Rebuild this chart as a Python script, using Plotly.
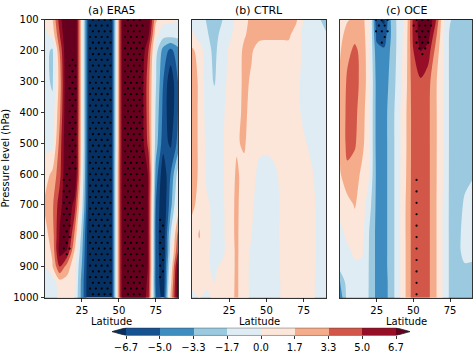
import plotly.graph_objects as go

# ---------------- data ----------------
LAT = [0, 5, 10, 15, 20, 25, 30, 35, 40, 45, 50, 55, 60, 65, 70, 75, 80, 85, 90]
PLEV = [100, 150, 200, 300, 400, 500, 600, 700, 800, 850, 900, 950, 1000]

ERA5 = [
    [0.3, 1.5, 6.0, 9.0, 9.5, 0.5, -8.0, -9.0, -9.0, -7.5, 3.2, 12.0, 10.0, 9.0, 8.0, 2.0, 0.5, 0.3, 0.2],
    [-0.5, 0.5, 5.0, 9.0, 9.5, 0.5, -8.0, -9.0, -9.0, -7.5, 3.2, 12.0, 10.0, 9.0, 7.0, 0.5, -1.0, -1.0, -1.0],
    [-1.0, -2.0, 3.5, 9.0, 9.5, 0.5, -8.0, -9.0, -9.0, -7.5, 3.2, 12.0, 10.0, 8.5, 5.0, -1.0, -4.0, -5.5, -4.0],
    [-1.0, -2.0, 2.5, 9.0, 9.5, 0.5, -8.0, -9.0, -9.0, -7.5, 3.2, 12.0, 10.0, 8.0, 4.0, -1.5, -5.0, -8.0, -5.0],
    [-0.5, -1.0, 3.0, 9.0, 9.5, 0.5, -8.0, -9.0, -9.0, -7.5, 3.2, 12.0, 10.0, 8.0, 4.0, -2.0, -5.5, -8.0, -5.0],
    [-0.5, -0.5, 4.0, 9.0, 9.0, 0.5, -8.0, -9.0, -9.0, -7.5, 3.2, 12.0, 10.0, 8.0, 4.5, -2.5, -6.0, -7.0, -4.5],
    [1.0, 2.0, 4.5, 9.0, 9.0, 0.0, -8.0, -9.0, -9.0, -7.5, 3.5, 12.0, 10.0, 9.0, 6.5, -4.0, -8.0, -5.0, -1.0],
    [2.0, 3.0, 6.0, 8.5, 6.0, -1.0, -8.0, -9.0, -9.0, -7.5, 3.5, 12.0, 10.0, 9.0, 6.5, -5.0, -8.5, -4.0, 0.5],
    [1.0, 2.5, 7.0, 8.0, 3.0, -2.5, -8.5, -9.0, -9.0, -7.5, 3.5, 12.0, 10.0, 9.0, 6.5, -5.5, -8.5, -1.5, 4.0],
    [0.5, 2.0, 7.5, 6.5, 1.5, -3.0, -8.5, -9.0, -9.0, -7.5, 3.5, 12.0, 10.0, 9.0, 6.5, -5.5, -8.5, -1.0, 5.0],
    [0.0, 1.5, 5.0, 2.5, 0.5, -3.5, -8.5, -9.0, -9.0, -7.5, 3.5, 12.0, 10.0, 9.0, 6.5, -5.5, -8.0, 0.0, 7.5],
    [-0.5, -1.0, 1.0, 1.0, 0.3, -4.0, -8.5, -9.0, -9.0, -7.5, 3.5, 12.0, 10.0, 9.0, 6.0, -5.5, -8.0, 1.0, 8.0],
    [-1.0, -1.5, 0.8, 0.8, 0.0, -4.0, -8.5, -9.0, -9.0, -7.5, 3.5, 12.0, 10.0, 9.0, 5.5, -5.0, -7.5, 2.0, 8.0],
]

CTRL = [
    [-0.5, -1.0, -1.8, -2.5, -1.8, -0.5, 0.3, 1.0, 2.2, 2.2, 2.2, 2.2, 2.2, 2.2, 1.9, 0.0, -1.0, -1.5, -2.2],
    [0.3, -0.8, -1.5, -2.3, -1.2, -0.3, 0.5, 1.5, 2.2, 2.0, 2.0, 2.0, 2.0, 1.9, 1.0, -0.5, -1.0, -1.2, -1.5],
    [2.0, 1.0, -1.2, -2.0, -1.0, 0.2, 0.8, 2.0, 1.8, 1.2, 1.0, 1.0, 1.0, 1.2, 1.5, -0.5, -1.0, -1.0, -1.2],
    [2.2, 1.5, -1.0, -1.8, -0.8, 0.5, 1.0, 2.0, 1.5, 0.8, 0.5, 0.8, 0.8, 0.6, 0.3, -0.3, -0.8, -0.8, -1.0],
    [2.2, 1.5, -0.8, -1.0, -0.3, 0.5, 1.2, 2.0, 1.2, 0.5, 0.5, 0.8, 0.8, 0.6, 0.4, -0.3, -0.6, -0.8, -0.8],
    [2.2, 1.5, -0.5, -0.8, -0.2, 0.5, 1.5, 1.9, 0.8, 0.3, 0.3, 0.5, 0.6, 0.5, 0.4, 0.2, -0.3, -0.8, -0.8],
    [2.2, 1.5, -0.3, -0.5, -0.3, 0.8, 1.9, 1.2, 0.5, -0.3, -0.5, -0.3, 0.3, 0.6, 0.6, 0.5, 0.2, -0.5, -0.8],
    [2.0, 1.2, 0.2, -0.3, -0.5, 1.0, 2.0, 0.8, 0.2, -0.5, -0.6, -0.5, 0.2, 0.6, 0.7, 0.6, 0.4, -0.3, -0.8],
    [1.0, 1.8, 0.3, -0.3, -0.6, 1.0, 2.0, 0.6, 0.0, -0.6, -0.7, -0.6, 0.3, 0.6, 0.7, 0.3, 0.5, -0.3, -0.8],
    [0.6, 1.0, 0.3, -0.4, -0.5, 0.8, 2.0, 0.6, -0.2, -0.6, -0.7, -0.6, 0.2, 0.6, 0.6, 0.2, 0.5, -0.3, -0.8],
    [0.4, 0.6, 0.2, -0.3, 0.3, 0.8, 2.0, 0.5, -0.3, -0.6, -0.7, -0.6, 0.2, 0.5, 0.6, 0.3, 0.4, -0.3, -0.8],
    [0.2, 0.3, 0.2, 0.0, 0.5, 0.9, 2.0, 0.5, -0.3, -0.6, -0.7, -0.6, 0.1, 0.4, 0.6, 0.3, 0.3, -0.3, -0.8],
    [-0.2, 0.0, -0.2, 0.2, 0.6, 1.0, 2.0, 0.5, -0.3, -0.6, -0.7, -0.6, 0.1, 0.4, 0.6, 0.3, 0.3, -0.3, -0.8],
]

OCE = [
    [0.5, 1.5, 2.0, 2.0, 1.0, -6.5, -7.0, -3.0, -1.0, 0.5, 5.5, 7.5, 8.5, 5.5, 0.5, -1.5, -2.5, -2.5, -2.5],
    [1.0, 2.5, 3.0, 2.5, 0.5, -5.5, -6.0, -3.2, -1.0, 0.8, 5.5, 7.5, 7.5, 4.0, 0.5, -2.0, -2.5, -2.5, -2.5],
    [1.5, 3.0, 3.6, 3.0, 0.3, -4.5, -4.8, -3.0, -1.0, 1.0, 5.0, 6.8, 6.0, 3.0, 0.3, -2.0, -2.5, -2.5, -2.5],
    [2.0, 3.6, 3.8, 3.0, 0.5, -4.0, -4.2, -2.8, -0.8, 1.2, 4.5, 4.8, 4.0, 2.0, 0.3, -2.0, -2.5, -2.5, -2.5],
    [2.0, 3.8, 3.8, 2.5, 0.3, -4.0, -4.0, -2.5, -0.5, 1.5, 4.2, 4.5, 3.8, 2.0, 0.3, -2.0, -2.5, -2.5, -2.5],
    [2.0, 3.8, 3.6, 2.2, 0.3, -4.0, -4.0, -2.5, -0.5, 1.5, 4.2, 4.5, 3.8, 2.0, 0.3, -2.0, -2.5, -2.5, -2.5],
    [1.5, 3.0, 2.5, 1.3, 0.0, -3.8, -4.0, -2.5, -0.5, 1.6, 4.2, 4.5, 3.8, 2.0, 0.2, -2.0, -2.3, -2.0, -1.8],
    [0.5, 1.0, 1.8, 1.0, -1.0, -3.8, -4.0, -2.5, -0.5, 1.8, 4.2, 4.5, 3.8, 2.0, 0.0, -2.0, -2.2, -1.5, -1.2],
    [-0.5, 0.3, 0.8, 0.5, -1.8, -3.8, -4.0, -2.5, -0.5, 1.8, 4.2, 4.5, 3.8, 2.0, 0.0, -2.0, -2.0, -1.3, -1.0],
    [-0.8, -0.3, 0.3, 0.2, -1.8, -3.8, -4.0, -2.5, -0.5, 1.8, 4.2, 4.5, 3.8, 2.0, 0.0, -2.0, -2.0, -1.3, -1.0],
    [-1.0, -0.5, -0.3, -0.3, -1.8, -3.8, -4.0, -2.5, -0.5, 1.8, 4.2, 4.5, 3.8, 2.0, 0.0, -2.0, -2.2, -1.8, -2.0],
    [-3.5, -0.8, -0.5, -0.5, -1.8, -3.8, -4.2, -2.5, -0.5, 1.8, 4.2, 4.5, 3.8, 2.0, 0.0, -2.0, -2.2, -2.2, -2.2],
    [-4.5, -1.0, -0.6, -0.6, -1.8, -3.8, -4.2, -2.5, -0.5, 1.8, 4.2, 4.5, 3.8, 2.0, 0.0, -2.0, -2.2, -2.2, -2.2],
]

# significance regions (lat_min, lat_max, p_min, p_max), drawn as stippling
SIG_ERA5 = [(30, 45.5, 100, 1000), (52.5, 68, 100, 1000), (16, 21.5, 230, 600),
            (11.5, 18, 600, 870), (76.5, 80, 740, 950)]
SIG_CTRL = []
SIG_OCE = [(24, 33, 100, 150), (27, 31, 150, 175), (50, 64, 100, 135),
           (51, 62, 135, 180), (53, 59, 180, 215), (51.5, 53, 610, 1000)]

LEVELS = [-6.7, -5.025, -3.35, -1.675, 0.0, 1.675, 3.35, 5.025, 6.7]
LEVEL_LABELS = ["\u22126.7", "\u22125.0", "\u22123.3", "\u22121.7", "0.0", "1.7", "3.3", "5.0", "6.7"]
COLORS = ["#053061", "#175290", "#3f8dc0", "#9ac9e0", "#dfecf3",
          "#fbe6d9", "#f5ac8b", "#d25749", "#960f27", "#67001f"]
TITLES = ["(a) ERA5", "(b) CTRL", "(c) OCE"]
XTICKS = [25, 50, 75]
YTICKS = [100, 200, 300, 400, 500, 600, 700, 800, 900, 1000]

# ---------------- styling / layout constants ----------------
W, H = 474, 357
FONT = "DejaVu Sans"
PANEL_PX = [(45, 178), (192, 326), (340, 472)]
TOP_PX, BOT_PX = 15, 302
CB_X0, CB_X1, CB_Y0, CB_Y1 = 112, 410, 333, 341

def fx(px):
    return px / W

def fy(px):
    return 1 - px / H

CS = LEVELS[1] - LEVELS[0]
ZMIN = LEVELS[0] - CS / 2
ZMAX = LEVELS[-1] + CS / 2
n = len(COLORS)
colorscale = []
for i, c in enumerate(COLORS):
    lo = 0.0 if i == 0 else (i - 0.5) / (n - 1)
    hi = 1.0 if i == n - 1 else (i + 0.5) / (n - 1)
    colorscale.append([lo, c])
    colorscale.append([hi, c])

# hatch grid (visual spacing of the stipple pattern)
DX, DY, LAT0, P0 = 3.95, 18.5, 0.85, 101.0


def stipple(boxes):
    xs, ys = [], []
    j = 0
    while P0 + j * DY <= 1000:
        p = P0 + j * DY
        lat = LAT0 + (DX / 2 if j % 2 else 0.0)
        while lat <= 90:
            for (a, b, c, d) in boxes:
                if a <= lat <= b and c <= p <= d:
                    xs.append(lat)
                    ys.append(p)
                    break
            lat += DX
        j += 1
    return xs, ys


fig = go.Figure()

for i, (z, sig) in enumerate(zip([ERA5, CTRL, OCE], [SIG_ERA5, SIG_CTRL, SIG_OCE])):
    xa = "x" if i == 0 else f"x{i+1}"
    ya = "y" if i == 0 else f"y{i+1}"
    fig.add_trace(go.Contour(
        x=LAT, y=PLEV, z=z, xaxis=xa, yaxis=ya,
        colorscale=colorscale, zmin=ZMIN, zmax=ZMAX, autocontour=False,
        contours=dict(start=LEVELS[0], end=LEVELS[-1], size=CS,
                      coloring="fill", showlines=False),
        line=dict(width=0, smoothing=0.9), showscale=False, hoverinfo="skip",
    ))
    if sig:
        sx, sy = stipple(sig)
        fig.add_trace(go.Scatter(
            x=sx, y=sy, xaxis=xa, yaxis=ya, mode="markers",
            marker=dict(size=2.2, color="black", line=dict(width=0)),
            hoverinfo="skip", showlegend=False,
        ))

# colorbar (drawn on its own axis)
mids = [(LEVELS[k] + LEVELS[k + 1]) / 2 for k in range(len(LEVELS) - 1)]
EXT = (LEVELS[-1] - LEVELS[0]) * 14 / 270
fig.add_trace(go.Heatmap(
    x=LEVELS, y=[0, 1], z=[mids], xaxis="x4", yaxis="y4",
    colorscale=colorscale, zmin=ZMIN, zmax=ZMAX, showscale=False, hoverinfo="skip",
))
fig.add_trace(go.Scatter(
    x=[LEVELS[0], LEVELS[0] - EXT, LEVELS[0], LEVELS[0]], y=[0, 0.5, 1, 0],
    fill="toself", fillcolor=COLORS[0], line=dict(width=0), mode="lines",
    xaxis="x4", yaxis="y4", hoverinfo="skip", showlegend=False,
))
fig.add_trace(go.Scatter(
    x=[LEVELS[-1], LEVELS[-1] + EXT, LEVELS[-1], LEVELS[-1]], y=[0, 0.5, 1, 0],
    fill="toself", fillcolor=COLORS[-1], line=dict(width=0), mode="lines",
    xaxis="x4", yaxis="y4", hoverinfo="skip", showlegend=False,
))
fig.add_trace(go.Scatter(
    x=[LEVELS[0], LEVELS[0] - EXT, LEVELS[0], LEVELS[-1], LEVELS[-1] + EXT, LEVELS[-1], LEVELS[0]],
    y=[0, 0.5, 1, 1, 0.5, 0, 0], mode="lines", line=dict(color="#222", width=0.8),
    xaxis="x4", yaxis="y4", hoverinfo="skip", showlegend=False,
))

axis_common = dict(showline=True, mirror=True, linecolor="black", linewidth=0.8,
                   showgrid=False, zeroline=False, ticks="outside", ticklen=3.5,
                   tickwidth=0.8, tickcolor="black",
                   tickfont=dict(family=FONT, size=10, color="black"))

layout = dict(
    width=W, height=H, margin=dict(l=0, r=0, t=0, b=0),
    paper_bgcolor="white", plot_bgcolor="white", showlegend=False,
    font=dict(family=FONT, size=10, color="black"),
)
for i, (x0, x1) in enumerate(PANEL_PX):
    sx = "" if i == 0 else str(i + 1)
    layout["xaxis" + sx] = dict(axis_common, domain=[fx(x0), fx(x1)], range=[0, 90],
                                tickvals=XTICKS, anchor="y" + sx)
    ydict = dict(axis_common, domain=[fy(BOT_PX), fy(TOP_PX)], range=[1000, 100],
                 tickvals=YTICKS, anchor="x" + sx)
    if i > 0:
        ydict.update(ticks="", showticklabels=False)
    layout["yaxis" + sx] = ydict

layout["xaxis4"] = dict(domain=[fx(CB_X0), fx(CB_X1)], range=[LEVELS[0] - EXT, LEVELS[-1] + EXT],
                        anchor="y4", tickvals=LEVELS, ticktext=LEVEL_LABELS,
                        ticks="outside", ticklen=2.5, tickwidth=0.8, tickcolor="black",
                        showline=False, showgrid=False, zeroline=False,
                        tickfont=dict(family=FONT, size=10, color="black"))
layout["yaxis4"] = dict(domain=[fy(CB_Y1), fy(CB_Y0)], range=[0, 1], anchor="x4",
                        visible=False, fixedrange=True)

annotations = []
for i, (x0, x1) in enumerate(PANEL_PX):
    cx = (x0 + x1) / 2
    annotations.append(dict(text=TITLES[i], x=fx(cx), y=fy(6), xref="paper", yref="paper",
                            showarrow=False, xanchor="center", yanchor="middle",
                            font=dict(family=FONT, size=11, color="black")))
    annotations.append(dict(text="Latitude", x=fx(cx), y=fy(327), xref="paper", yref="paper",
                            showarrow=False, xanchor="center", yanchor="middle",
                            font=dict(family=FONT, size=10, color="black")))
annotations.append(dict(text="Pressure level (hPa)", x=fx(6), y=fy((TOP_PX + BOT_PX) / 2),
                        xref="paper", yref="paper", showarrow=False, textangle=-90,
                        xanchor="center", yanchor="middle",
                        font=dict(family=FONT, size=10, color="black")))
layout["annotations"] = annotations

fig.update_layout(**layout)
fig.write_html(
    "out.html",
    config={"displayModeBar": False, "staticPlot": True},
    post_script="document.body.style.margin='0';document.body.style.overflow='hidden';",
)
